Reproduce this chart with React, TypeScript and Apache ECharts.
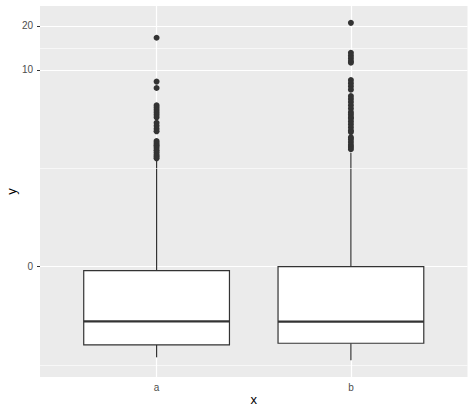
import React, { useEffect, useRef } from 'react';
import * as echarts from 'echarts';

const categories = ['a', 'b'];
// [lower whisker, Q1, median, Q3, upper whisker]
const boxA = [-1.77, -1.41, -0.875, -0.057, 2.3];
const boxB = [-1.86, -1.37, -0.88, 0.0, 2.64];
const outliersA = [16.6, 8.3, 7.5, 5.7, 5.5, 5.3, 5.1, 4.9, 4.7, 4.3, 4.1, 3.9, 3.75, 3.2, 3.1, 3.0, 2.95, 2.85, 2.75, 2.65, 2.55, 2.48, 2.4];
const outliersB = [21.0, 13.1, 12.5, 12.0, 11.5, 11.2, 8.5, 8.1, 7.7, 7.3, 6.6, 6.3, 6.0, 5.7, 5.4, 5.1, 4.9, 4.7, 4.6, 4.4, 4.2, 4.0, 3.8, 3.7, 3.4, 3.3, 3.15, 3.0, 2.9, 2.8];
const yTicks = [0, 10, 20];

const SIGMA = 0.9;
const tf = (v: number) => Math.asinh(v / SIGMA);

export default function App() {
  const ref = useRef<HTMLDivElement>(null);
  useEffect(() => {
    if (!ref.current) return;
    const chart = echarts.init(ref.current, null, { renderer: 'svg' });

    const allVals = [...boxA, ...boxB, ...outliersA, ...outliersB].map(tf);
    const lo = Math.min(...allVals);
    const hi = Math.max(...allVals);
    const pad = (hi - lo) * 0.05;
    const yMin = lo - pad;
    const yMax = hi + pad;

    const majorT = yTicks.map(tf);
    const ext = [majorT[0] - (majorT[1] - majorT[0]), ...majorT, majorT[majorT.length - 1] + (majorT[majorT.length - 1] - majorT[majorT.length - 2])];
    const minorT: number[] = [];
    for (let i = 0; i < ext.length - 1; i++) {
      const m = (ext[i] + ext[i + 1]) / 2;
      if (m > yMin && m < yMax) minorT.push(m);
    }

    const labelFor = (v: number) => {
      let best = 0;
      let d = Infinity;
      yTicks.forEach((t, i) => {
        const dd = Math.abs(tf(t) - v);
        if (dd < d) { d = dd; best = i; }
      });
      return String(yTicks[best]);
    };

    const boxData = [boxA, boxB].map((b, i) => [i + 1, ...b.map(tf)]);

    const option: any = {
      animation: false,
      textStyle: { fontFamily: 'Liberation Sans, Arial, sans-serif' },
      grid: {
        left: 40, right: 6.5, top: 6, bottom: 37,
        outerBoundsMode: 'none', containLabel: false,
        show: true, backgroundColor: '#EBEBEB', borderWidth: 0,
      },
      xAxis: {
        type: 'value', min: 0.4, max: 2.6,
        name: 'x', nameLocation: 'middle', nameGap: 16, nameMoveOverlap: false,
        nameTextStyle: { color: '#000000', fontSize: 13 },
        axisLine: { show: false },
        axisTick: { show: true, customValues: [1, 2], length: 3, lineStyle: { color: '#333333', width: 1 } },
        axisLabel: {
          customValues: [1, 2], margin: 5, color: '#4D4D4D', fontSize: 10,
          formatter: (v: number) => categories[Math.round(v) - 1] ?? '',
        },
        splitLine: { show: true, lineStyle: { color: '#FFFFFF', width: 1.2 } },
      },
      yAxis: {
        type: 'value', min: yMin, max: yMax,
        name: 'y', nameLocation: 'middle', nameGap: 22, nameRotate: 90, nameMoveOverlap: false,
        nameTextStyle: { color: '#000000', fontSize: 13 },
        axisLine: { show: false },
        axisTick: { show: true, customValues: majorT, length: 3, lineStyle: { color: '#333333', width: 1 } },
        axisLabel: {
          customValues: majorT, margin: 7, color: '#4D4D4D', fontSize: 10,
          formatter: (v: number) => labelFor(v),
        },
        splitLine: { show: true, lineStyle: { color: '#FFFFFF', width: 1.2 } },
      },
      series: [
        {
          type: 'line', data: [], z: 1, silent: true,
          markLine: {
            silent: true, symbol: 'none', label: { show: false },
            lineStyle: { color: '#FFFFFF', width: 0.6, type: 'solid' },
            data: minorT.map((v) => ({ yAxis: v })),
          },
        },
        {
          type: 'custom', z: 2, silent: true,
          data: boxData,
          encode: { x: 0, y: [1, 2, 3, 4, 5] },
          renderItem: (params: any, api: any) => {
            const x = api.value(0);
            const low = api.coord([x, api.value(1)]);
            const q1 = api.coord([x, api.value(2)]);
            const med = api.coord([x, api.value(3)]);
            const q3 = api.coord([x, api.value(4)]);
            const high = api.coord([x, api.value(5)]);
            const w = api.size([0.75, 0])[0];
            const cx = low[0];
            const stroke = { stroke: '#333333', lineWidth: 1.2, fill: null };
            return {
              type: 'group',
              children: [
                { type: 'line', shape: { x1: cx, y1: q3[1], x2: cx, y2: high[1] }, style: stroke },
                { type: 'line', shape: { x1: cx, y1: q1[1], x2: cx, y2: low[1] }, style: stroke },
                { type: 'rect', shape: { x: cx - w / 2, y: q3[1], width: w, height: q1[1] - q3[1] }, style: { fill: '#FFFFFF', stroke: '#333333', lineWidth: 1.2 } },
                { type: 'line', shape: { x1: cx - w / 2, y1: med[1], x2: cx + w / 2, y2: med[1] }, style: { stroke: '#333333', lineWidth: 2.2 } },
              ],
            };
          },
        },
        {
          type: 'scatter', z: 3, silent: true,
          symbol: 'circle', symbolSize: 6,
          itemStyle: { color: '#333333', opacity: 1 },
          data: [
            ...outliersA.map((v) => [1, tf(v)]),
            ...outliersB.map((v) => [2, tf(v)]),
          ],
        },
      ],
    };
    chart.setOption(option);
    return () => chart.dispose();
  }, []);
  return <div ref={ref} style={{ position: 'absolute', left: 0, top: 0, width: 474, height: 414 }} />;
}
